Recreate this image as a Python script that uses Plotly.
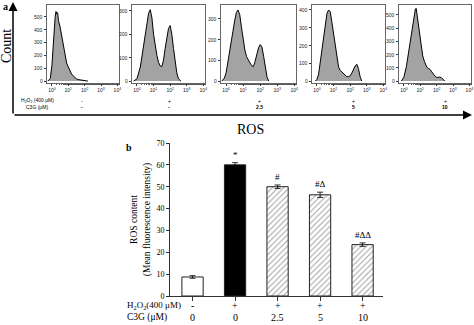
import plotly.graph_objects as go

W, H = 474, 325
def px(x): return x / W
def py(y): return 1 - y / H

# ---------------- data ----------------
# Panel a: flow cytometry histograms (log10 fluorescence, count)
hist_logx = [
    [-0.25,-0.1,0.0,0.1,0.2,0.25,0.3,0.35,0.4,0.5,0.6,0.7,0.8,0.9,1.0,1.1,1.2,1.3,1.4,1.5,1.6,1.8,2.0,2.2],
    [-0.2,0.0,0.2,0.4,0.5,0.6,0.7,0.8,0.9,1.0,1.1,1.2,1.3,1.4,1.5,1.6,1.7,1.8,1.9,2.0,2.1,2.2,2.3,2.4,2.5,2.65],
    [-0.25,-0.1,0.0,0.2,0.4,0.5,0.6,0.7,0.8,0.9,1.0,1.1,1.2,1.3,1.4,1.5,1.6,1.7,1.8,1.9,2.0,2.1,2.2,2.3,2.4,2.5],
    [-0.1,0.0,0.1,0.2,0.3,0.4,0.5,0.6,0.7,0.8,0.9,1.0,1.1,1.2,1.3,1.4,1.5,1.6,1.7,1.8,1.9,2.0,2.1,2.2,2.3,2.4,2.5,2.6,2.7],
    [-0.15,0.0,0.15,0.3,0.45,0.6,0.7,0.75,0.85,0.95,1.05,1.15,1.25,1.4,1.5,1.6,1.7,1.8,1.9,2.0,2.1,2.2,2.3,2.4,2.5],
]
hist_count = [
    [0,20,120,330,500,540,520,530,470,420,350,260,180,140,110,80,55,40,25,18,12,6,3,0],
    [0,10,60,150,210,260,290,305,270,200,150,110,80,65,62,90,140,190,225,237,200,140,80,35,10,0],
    [0,15,40,130,240,290,330,343,320,260,200,150,118,100,88,75,70,95,130,160,176,165,120,60,20,0],
    [0,10,40,110,180,260,330,380,400,390,330,260,190,120,80,60,50,40,30,25,25,30,45,65,85,95,70,25,0],
    [0,30,110,230,350,500,545,550,460,360,260,190,150,105,95,88,70,52,38,28,30,30,25,14,0],
]
hist_ymax = [590, 325, 367, 428, 575]
hist_yticks = [[0,100,200,300,400,500],[0,100,200,300],[0,100,200,300],[0,100,200,300,400],[0,100,200,300,400,500]]
hist_h2o2 = ["-", "+", "+", "+", "+"]
hist_c3g = ["-", "-", "2.5", "5", "10"]
log_ticks = [0, 1, 2, 3, 4]

# Panel b: bar chart
bar_x = [0, 1, 2, 3, 4]
bar_values = [8.7, 60.0, 50.0, 46.3, 23.5]
bar_errors = [0.6, 1.0, 0.8, 1.2, 0.8]
bar_marks = ["", "*", "#", "#Δ", "#ΔΔ"]
h2o2_labels = ["-", "+", "+", "+", "+"]
c3g_labels = ["0", "0", "2.5", "5", "10"]
y_ticks = [0, 10, 20, 30, 40, 50, 60, 70]

# ---------------- layout positions ----------------
panel_px = [(47, 119), (132, 205), (221, 296), (312, 385), (399, 471)]
panel_top, panel_bot = 5, 83
label_x_px = [82, 169, 259, 353, 445]

serif = "Liberation Serif"
sans = "Liberation Sans"

def aid(letter, n):
    return letter if n == 1 else f"{letter}{n}"

fig = go.Figure()
layout = dict(
    width=W, height=H, margin=dict(l=0, r=0, t=0, b=0, autoexpand=False),
    paper_bgcolor="white", plot_bgcolor="rgba(0,0,0,0)", showlegend=False,
    font=dict(family=serif, color="black"),
)
ann = []

for i in range(5):
    n = i + 1
    xid, yid = aid("x", n), aid("y", n)
    xs = [10 ** v for v in hist_logx[i]]
    fig.add_trace(go.Scatter(
        x=xs, y=hist_count[i], mode="lines", fill="tozeroy",
        fillcolor="#a3a3a3", line=dict(color="black", width=1),
        xaxis=xid, yaxis=yid, hoverinfo="skip",
    ))
    x0, x1 = panel_px[i]
    layout[aid("xaxis", n)] = dict(
        domain=[px(x0), px(x1)], anchor=yid, type="log", automargin=False,
        range=[-0.3, 4.1], tickvals=[10 ** t for t in log_ticks],
        ticktext=[f"10<sup>{t}</sup>" for t in log_ticks],
        ticks="outside", ticklen=2, tickwidth=0.7, tickcolor="#333",
        minor=dict(ticks="outside", ticklen=1, tickwidth=0.5, tickcolor="#555"),
        showline=True, linecolor="#666", linewidth=0.7, mirror=True,
        showgrid=False, zeroline=False,
        tickfont=dict(family=sans, size=5, color="#222"),
    )
    layout[aid("yaxis", n)] = dict(
        domain=[py(panel_bot), py(panel_top)], anchor=xid, automargin=False,
        range=[-hist_ymax[i] * 0.025, hist_ymax[i]], tickmode="array",
        tickvals=hist_yticks[i], showticklabels=False,
        ticks="outside", ticklen=2, tickwidth=0.7, tickcolor="#333",
        showline=True, linecolor="#666", linewidth=0.7, mirror=True,
        showgrid=False, zeroline=False,
    )
    # y tick labels of each histogram, placed on the axis' own scale
    for v in hist_yticks[i]:
        ann.append(dict(x=0, xref=f"{xid} domain", y=v, yref=yid, text=str(v),
                        showarrow=False, xanchor="right", yanchor="middle", xshift=-2,
                        font=dict(family=sans, size=5, color="#222")))

# bar chart
bar_colors = ["white", "black", "white", "white", "white"]
bar_patterns = ["", "", "/", "/", "/"]
fig.add_trace(go.Bar(
    x=bar_x, y=bar_values, width=0.5,
    marker=dict(color=bar_colors, line=dict(color="#222", width=1),
                pattern=dict(shape=bar_patterns, fgcolor="#777", bgcolor="white",
                             size=4, solidity=0.25)),
    error_y=dict(type="data", array=bar_errors, visible=True, color="black",
                 thickness=0.8, width=3),
    xaxis="x6", yaxis="y6", hoverinfo="skip",
))
layout["xaxis6"] = dict(
    domain=[px(170), px(383)], anchor="y6", range=[-0.53, 4.48], automargin=False,
    tickvals=bar_x, showticklabels=False,
    ticks="outside", ticklen=4, tickwidth=0.8, tickcolor="#333",
    showline=True, linecolor="#333", linewidth=1, showgrid=False, zeroline=False,
)
layout["yaxis6"] = dict(
    domain=[py(296), py(143)], anchor="x6", range=[0, 70], tickvals=y_ticks,
    automargin=False,
    ticks="outside", ticklen=3, tickwidth=0.8, tickcolor="#333",
    showline=True, linecolor="#333", linewidth=1, showgrid=False, zeroline=False,
    tickfont=dict(family=serif, size=8, color="black"),
    title=dict(text="ROS content<br>(Mean fluorescence intensity)",
               font=dict(family=serif, size=9.5), standoff=4),
)

for i in range(5):
    if bar_marks[i]:
        ann.append(dict(x=bar_x[i], y=bar_values[i] + bar_errors[i], xref="x6", yref="y6",
                        text=bar_marks[i], showarrow=False, yanchor="bottom", yshift=1,
                        font=dict(family=serif, size=9)))
    # category labels under bars (two rows)
    ann.append(dict(x=bar_x[i], y=py(305), xref="x6", yref="paper", text=h2o2_labels[i],
                    showarrow=False, xanchor="center", yanchor="middle",
                    font=dict(family=serif, size=10)))
    ann.append(dict(x=bar_x[i], y=py(317), xref="x6", yref="paper", text=c3g_labels[i],
                    showarrow=False, xanchor="center", yanchor="middle",
                    font=dict(family=serif, size=10)))

def label(x, y, text, size, family=serif, angle=0, xanchor="center"):
    ann.append(dict(x=px(x), y=py(y), xref="paper", yref="paper", text=text,
                    textangle=angle, showarrow=False, xanchor=xanchor, yanchor="middle",
                    font=dict(family=family, size=size)))

# labels panel a
label(5, 7, "<b>a</b>", 10)
label(7, 46, "Count", 14, angle=-90)
label(250, 129, "ROS", 14)
label(37, 101, "H<sub>2</sub>O<sub>2</sub> (400 μM)", 5, family=sans)
label(37, 107, "C3G (μM)", 5, family=sans)
for i in range(5):
    label(label_x_px[i], 101, hist_h2o2[i], 5, family=sans)
    label(label_x_px[i], 107, f"<b>{hist_c3g[i]}</b>", 5, family=sans)
# arrows of panel a frame
ann.append(dict(x=px(13), y=py(2), xref="paper", yref="paper", ax=0, ay=113,
                showarrow=True, arrowhead=2, arrowsize=1.2,
                arrowwidth=1.5, arrowcolor="black", text=""))
ann.append(dict(x=px(472), y=py(115), xref="paper", yref="paper", ax=-459, ay=0,
                showarrow=True, arrowhead=2, arrowsize=1.2,
                arrowwidth=1.5, arrowcolor="black", text=""))
# labels panel b
label(129, 147, "<b>b</b>", 10)
label(125, 305, "H<sub>2</sub>O<sub>2</sub>(400 μM)", 9, xanchor="left")
label(125, 317, "C3G (μM)", 9.5, xanchor="left")
layout["annotations"] = ann

fig.update_layout(**layout)
fig.write_html("out.html")
